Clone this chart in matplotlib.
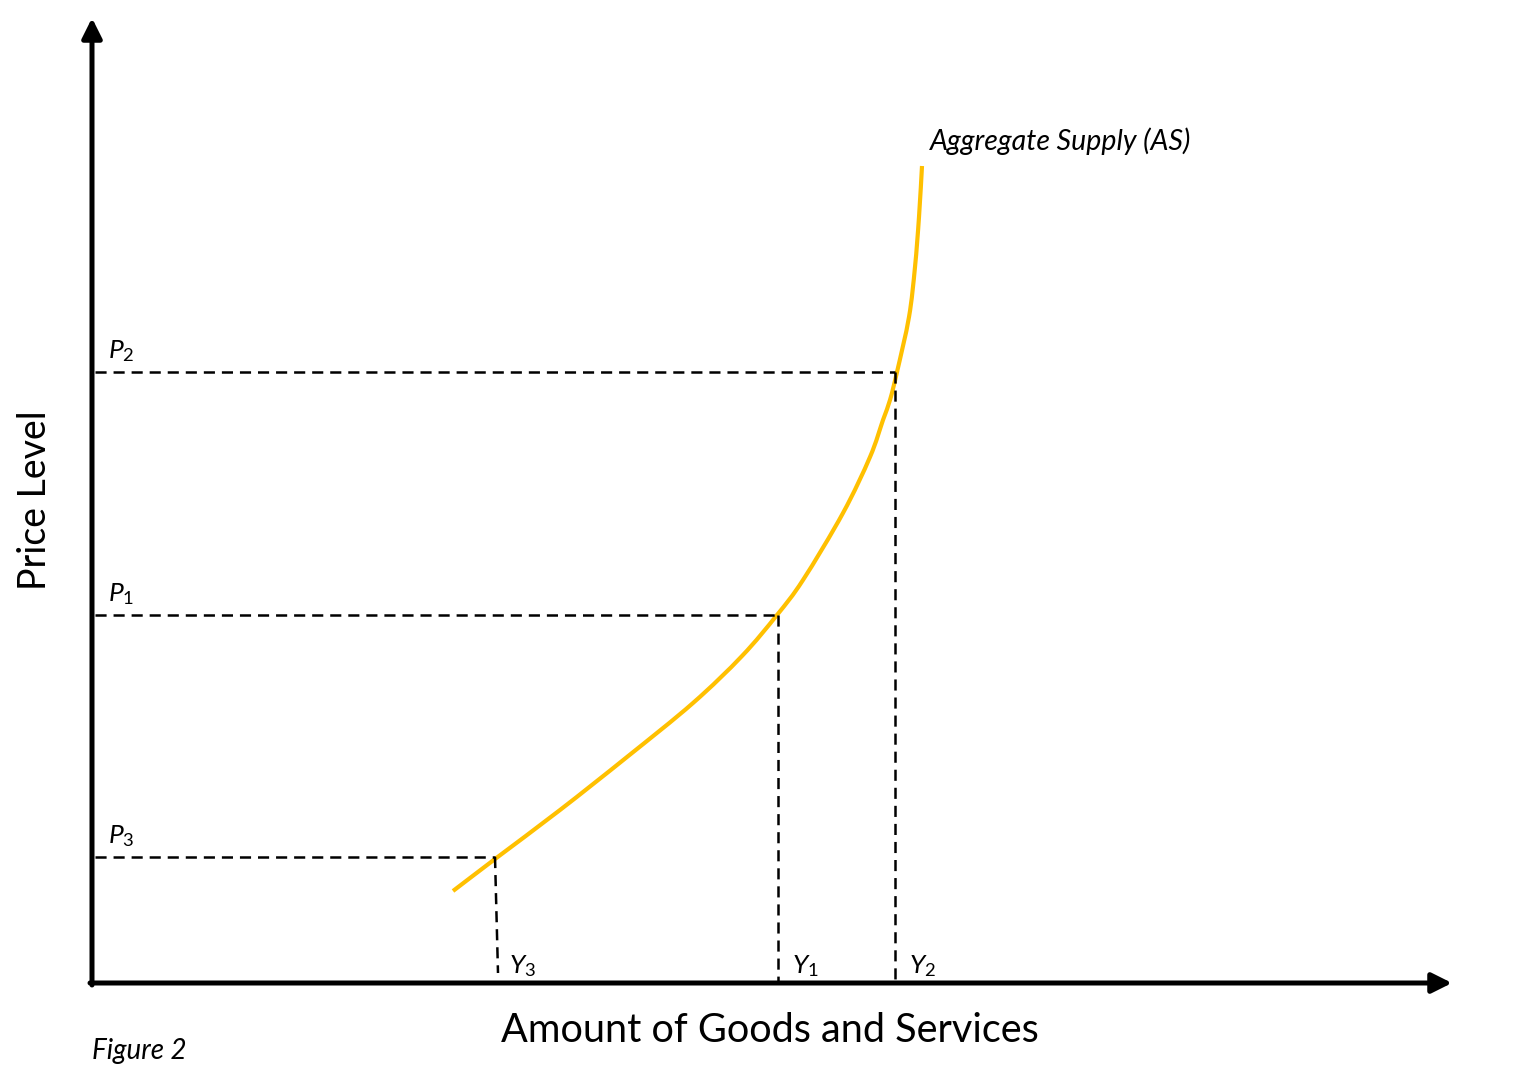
import matplotlib
matplotlib.use('Agg')
import matplotlib.pyplot as plt
from matplotlib.path import Path
from matplotlib.patches import PathPatch

plt.rcParams['font.family'] = ['Lato', 'DejaVu Sans']
plt.rcParams['mathtext.fontset'] = 'custom'
plt.rcParams['mathtext.it'] = 'Lato:italic'
plt.rcParams['mathtext.rm'] = 'Lato'
plt.rcParams['lines.scale_dashes'] = False

# aggregate supply curve (output, price level)
as_output = [361, 403, 468, 535, 601, 650, 685, 711, 751, 778, 791, 798, 805, 817, 823, 827, 830]
as_price = [92, 124, 173, 226, 280, 327, 368, 403, 470, 526, 563, 583, 611, 666, 716, 766, 817]

# equilibrium points marked with dashed guides
levels = ['3', '1', '2']
y_vals = [403, 686, 803]
p_vals = [126, 368, 611]
y_base = [406, 686, 803]   # where the vertical guide stops at the bottom
y_stop = [8, 0, 0]

x_max = 1360
p_max = 965

fig = plt.figure(figsize=(15.36, 10.87), dpi=100)
ax = fig.add_axes([0, 0, 1, 1])
ax.set_xlim(-92, 1444)
ax.set_ylim(-104, 983)
ax.axis('off')

# axes with arrow heads
arrow = dict(arrowstyle='-|>,head_length=0.6,head_width=0.3', lw=3.6,
             color='black', mutation_scale=20, shrinkA=0, shrinkB=0)
ax.annotate('', xy=(x_max, 0), xytext=(-2, 0), arrowprops=arrow)
ax.annotate('', xy=(0, p_max), xytext=(0, -2), arrowprops=arrow)

# dashed guide lines
for lv, yv, pv, yb, ys in zip(levels, y_vals, p_vals, y_base, y_stop):
    ax.plot([3, yv], [pv, pv], color='black', lw=1.8, dashes=(8, 5))
    ax.plot([yv, yb], [pv, ys + 2], color='black', lw=1.8, dashes=(8, 5))
    ax.text(16, pv + 8, r'$\mathit{P}_{\mathit{%s}}$' % lv, fontsize=19,
            ha='left', va='bottom')
    ax.text(yv + 14, 4, r'$\mathit{Y}_{\mathit{%s}}$' % lv, fontsize=19,
            ha='left', va='bottom')

# AS curve, smoothed through the read points (Catmull-Rom as cubic Beziers)
pts = list(zip(as_output, as_price))
verts = [pts[0]]
codes = [Path.MOVETO]
for i in range(len(pts) - 1):
    p0 = pts[max(i - 1, 0)]
    p1 = pts[i]
    p2 = pts[i + 1]
    p3 = pts[min(i + 2, len(pts) - 1)]
    c1 = (p1[0] + (p2[0] - p0[0]) / 6, p1[1] + (p2[1] - p0[1]) / 6)
    c2 = (p2[0] - (p3[0] - p1[0]) / 6, p2[1] - (p3[1] - p1[1]) / 6)
    verts += [c1, c2, p2]
    codes += [Path.CURVE4] * 3
ax.add_patch(PathPatch(Path(verts, codes), facecolor='none', edgecolor='#FFC000',
                       lw=3.0, capstyle='butt'))
ax.text(838, 842, 'Aggregate Supply (AS)', fontsize=20.5, style='italic',
        ha='left', va='center')

# axis titles
ax.text(-57, 483, 'Price Level', fontsize=27, rotation=90, ha='center', va='center')
ax.text(678, -48, 'Amount of Goods and Services', fontsize=28.5, ha='center', va='center')
ax.text(0, -68, 'Figure 2', fontsize=20, style='italic', ha='left', va='center')

fig.savefig('out.png', dpi=100, facecolor='white')
